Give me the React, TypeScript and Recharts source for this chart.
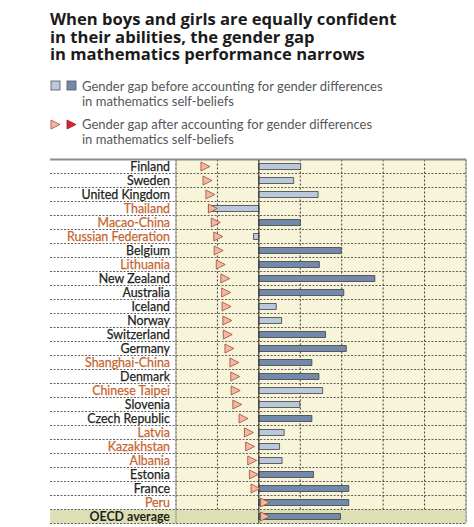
import {
  ComposedChart,
  Bar,
  Cell,
  Scatter,
  XAxis,
  YAxis,
  CartesianGrid,
  ReferenceLine,
  ReferenceArea,
} from "recharts";

const countries = [
  "Finland",
  "Sweden",
  "United Kingdom",
  "Thailand",
  "Macao-China",
  "Russian Federation",
  "Belgium",
  "Lithuania",
  "New Zealand",
  "Australia",
  "Iceland",
  "Norway",
  "Switzerland",
  "Germany",
  "Shanghai-China",
  "Denmark",
  "Chinese Taipei",
  "Slovenia",
  "Czech Republic",
  "Latvia",
  "Kazakhstan",
  "Albania",
  "Estonia",
  "France",
  "Peru",
  "OECD average",
];

// score-point gap (boys minus girls) before accounting for self-beliefs
const gapBefore = [
  10.1, 8.4, 14.3, -12.1, 10.0, -1.3, 19.9, 14.6, 28.0, 20.5, 4.2, 5.5, 16.1,
  21.1, 12.8, 14.5, 15.4, 9.9, 12.8, 6.1, 5.0, 5.6, 13.2, 21.7, 21.7, 19.7,
];
const beforeSignificant = [
  false, false, false, false, true, false, true, true, true, true, false, false,
  true, true, true, true, false, false, true, false, false, false, true, true,
  true, true,
];

// gap after accounting for self-beliefs
const gapAfter = [
  -12.9, -12.4, -11.7, -11.1, -10.4, -9.8, -9.7, -9.2, -8.1, -7.9, -7.8, -7.6,
  -7.5, -7.1, -5.9, -5.7, -5.6, -5.2, -3.7, -2.4, -2.1, -1.6, -1.2, -0.8, 1.5,
  1.5,
];

const partners = [
  "Thailand",
  "Macao-China",
  "Russian Federation",
  "Lithuania",
  "Shanghai-China",
  "Chinese Taipei",
  "Latvia",
  "Kazakhstan",
  "Albania",
  "Peru",
];

const titleLines = [
  "When boys and girls are equally confident",
  "in their abilities, the gender gap",
  "in mathematics performance narrows",
];
const legendBefore = [
  "Gender gap before accounting for gender differences",
  "in mathematics self-beliefs",
];
const legendAfter = [
  "Gender gap after accounting for gender differences",
  "in mathematics self-beliefs",
];

const xTicks = [-20, -10, 0, 10, 20, 30, 40, 50];
const X_MIN = -20;
const X_MAX = 50;
const LABEL_EDGE = -50.4; // left end of the label column, in axis units

const rows = countries.map((country, i) => ({
  country,
  before: gapBefore[i],
  after: gapAfter[i],
  sig: beforeSignificant[i],
}));

const LIGHT_BAR = "#b9c8da";
const DARK_BAR = "#7189aa";
const LIGHT_TRI = "#f3b7a2";
const DARK_TRI = "#d9232d";

function CountryTick(props: any) {
  const { x, y, payload } = props;
  const name = payload.value as string;
  const isOecd = name === "OECD average";
  const color = partners.includes(name) ? "#c6652f" : "#231f20";
  return (
    <text
      x={x}
      y={y}
      dy="0.36em"
      textAnchor="end"
      fontFamily="Lato, sans-serif"
      fontSize={12.4}
      fontWeight={isOecd ? 700 : 400}
      fill={color}
      stroke={color}
      strokeWidth={isOecd ? 0 : 0.25}
    >
      {name}
    </text>
  );
}

function Triangle(props: any) {
  const { cx, cy } = props;
  if (cx == null || cy == null) return null;
  return (
    <polygon
      points={`${cx - 4.5},${cy - 4.5} ${cx + 4.5},${cy} ${cx - 4.5},${cy + 4.5}`}
      fill={LIGHT_TRI}
      stroke="#9b4e3c"
      strokeWidth={0.8}
    />
  );
}

const legendText: React.CSSProperties = {
  position: "absolute",
  left: 82,
  fontFamily: "Lato, sans-serif",
  fontSize: 13,
  lineHeight: "15px",
  color: "#555759",
  whiteSpace: "nowrap",
};

const titleText: React.CSSProperties = {
  position: "absolute",
  left: 50,
  fontFamily: "'Open Sans', sans-serif",
  fontWeight: 700,
  fontSize: 16.6,
  lineHeight: "17px",
  color: "#1b1b1b",
  whiteSpace: "nowrap",
};

export default function App() {
  return (
    <div
      style={{
        position: "absolute",
        left: 0,
        top: 0,
        width: 474,
        height: 527,
        background: "#fff",
        overflow: "hidden",
      }}
    >
      {titleLines.map((t, i) => (
        <div key={t} style={{ ...titleText, top: 10 + i * 17.5 }}>
          {t}
        </div>
      ))}

      <svg
        style={{ position: "absolute", left: 0, top: 0 }}
        width={474}
        height={150}
      >
        <rect x={51} y={81} width={9} height={9} fill={LIGHT_BAR} stroke="#555" strokeWidth={0.8} />
        <rect x={67} y={81} width={9} height={9} fill={DARK_BAR} stroke="#555" strokeWidth={0.8} />
        <polygon points="51,120 60,124.5 51,129" fill={LIGHT_TRI} stroke="#9b4e3c" strokeWidth={0.8} />
        <polygon points="67,120 76,124.5 67,129" fill={DARK_TRI} stroke="#9b1c22" strokeWidth={0.8} />
      </svg>
      {legendBefore.map((t, i) => (
        <div key={"b" + i} style={{ ...legendText, top: 79 + i * 15 }}>
          {t}
        </div>
      ))}
      {legendAfter.map((t, i) => (
        <div key={"a" + i} style={{ ...legendText, top: 117 + i * 15 }}>
          {t}
        </div>
      ))}

      <div style={{ position: "absolute", left: 0, top: 0 }}>
        <ComposedChart
          width={474}
          height={527}
          layout="vertical"
          data={rows}
          margin={{ top: 159.5, right: 8, bottom: 3.5, left: 50 }}
        >
          <CartesianGrid
            horizontal={false}
            vertical
            fill="#f7f4da"
            stroke="#3a3a3a"
            strokeDasharray="2 2"
            fillOpacity={1}
          />
          <XAxis
            type="number"
            domain={[X_MIN, X_MAX]}
            ticks={xTicks}
            allowDataOverflow
            hide
          />
          <YAxis
            type="category"
            dataKey="country"
            width={126}
            axisLine={false}
            tickLine={false}
            tickSize={0}
            tickMargin={6}
            interval={0}
            tick={<CountryTick />}
          />
          <ReferenceArea
            x1={LABEL_EDGE}
            x2={X_MAX}
            y1="OECD average"
            y2="OECD average"
            ifOverflow="visible"
            fill="#dde0b5"
            fillOpacity={1}
            stroke="none"
          />
          {countries.map((c) => (
            <ReferenceLine
              key={c}
              segment={[
                { x: LABEL_EDGE, y: c },
                { x: X_MAX, y: c },
              ]}
              position="end"
              ifOverflow="visible"
              stroke="#3a3a3a"
              strokeDasharray="2 1.5"
              strokeWidth={0.8}
            />
          ))}
          <ReferenceLine x={X_MIN} stroke="#9a9a9a" strokeWidth={1} />
          <ReferenceLine x={X_MAX} stroke="#9a9a9a" strokeWidth={1} />
          <ReferenceLine x={0} stroke="#2a2a2a" strokeWidth={1} />
          <ReferenceLine
            segment={[
              { x: LABEL_EDGE, y: countries[0] },
              { x: X_MAX, y: countries[0] },
            ]}
            position="start"
            ifOverflow="visible"
            stroke="#8c8c8c"
            strokeWidth={2}
          />
          <Bar
            dataKey="before"
            barSize={6}
            stroke="#3f3f3f"
            strokeWidth={0.8}
            isAnimationActive={false}
          >
            {rows.map((r, i) => (
              <Cell key={i} fill={r.sig ? DARK_BAR : LIGHT_BAR} />
            ))}
          </Bar>
          <Scatter
            dataKey="after"
            shape={<Triangle />}
            isAnimationActive={false}
          />
        </ComposedChart>
      </div>
    </div>
  );
}
